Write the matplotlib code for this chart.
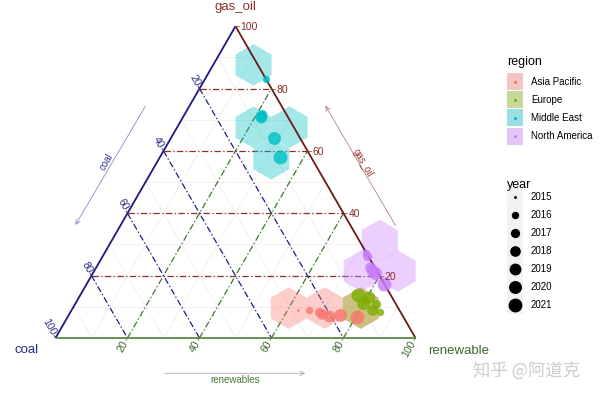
import numpy as np
import matplotlib
matplotlib.use("Agg")
import matplotlib.pyplot as plt
from matplotlib.patches import RegularPolygon, Rectangle, FancyArrowPatch
from matplotlib.transforms import Bbox, TransformedBbox

plt.rcParams["font.family"] = ["Liberation Sans", "DejaVu Sans"]

regions = ["Asia Pacific", "Europe", "Middle East", "North America"]
region_colors = ["#F8766D", "#7CAE00", "#00BFC4", "#C77CFF"]
years = [2015, 2016, 2017, 2018, 2019, 2020, 2021]

# shares in %, one value per year 2015..2021
ap_coal = [28.2, 25.1, 22.7, 22.0, 20.5, 17.3, 13.0]
ap_gas_oil = [9.0, 8.9, 8.2, 7.7, 7.1, 7.3, 6.6]
ap_renewables = [62.8, 66.0, 69.1, 70.3, 72.4, 75.4, 80.4]

eu_coal = [7.4, 5.7, 5.5, 7.7, 6.2, 8.9, 9.0]
eu_gas_oil = [11.6, 8.2, 10.9, 9.0, 13.3, 11.1, 13.8]
eu_renewables = [81.0, 86.1, 83.6, 83.3, 80.5, 80.0, 77.2]

me_coal = [0.6, 0.1, 6.7, 7.3, 7.5, 7.3, 8.6]
me_gas_oil = [82.6, 83.0, 71.9, 71.2, 71.0, 64.0, 58.1]
me_renewables = [16.8, 16.9, 21.4, 21.5, 21.5, 28.7, 33.3]

na_coal = [0.2, 0.1, 0.4, 1.3, 1.3, 0.9, 0.1]
na_gas_oil = [27.4, 27.4, 26.4, 22.8, 21.8, 20.8, 17.2]
na_renewables = [72.4, 72.5, 73.2, 75.9, 76.9, 78.3, 82.7]

# hexagon bins (centres, %), coal = 100 - gas_oil - renewables
hex_region = ["Asia Pacific", "Asia Pacific", "Asia Pacific", "Europe",
              "Middle East", "Middle East", "Middle East", "Middle East",
              "North America", "North America", "North America"]
hex_gas_oil = [9.6, 9.6, 9.6, 9.6, 87.6, 67.6, 67.6, 57.5, 31.3, 21.5, 21.5]
hex_renewables = [60.0, 70.0, 80.0, 80.0, 11.2, 21.2, 31.2, 31.2, 74.4, 74.3, 84.3]

breaks = [20, 40, 60, 80, 100]

data = {
    "Asia Pacific": (ap_coal, ap_gas_oil, ap_renewables),
    "Europe": (eu_coal, eu_gas_oil, eu_renewables),
    "Middle East": (me_coal, me_gas_oil, me_renewables),
    "North America": (na_coal, na_gas_oil, na_renewables),
}

GAS_C = "#8B2E2E"
COAL_C = "#1E1E8C"
REN_C = "#3A7A2A"
SQ = np.sqrt(3) / 2


def tern(coal, gas, ren):
    coal, gas, ren = (np.asarray(v, float) for v in (coal, gas, ren))
    tot = coal + gas + ren
    return (ren + gas / 2) / tot, gas * SQ / tot


def P(px, py):
    # pixel position of the 600x394 canvas -> data units
    return (px - 55.5) / 360, (338 - py) / 360


def year_size(y):
    size = 1 + 5 * np.sqrt((np.asarray(y) - 2015) / 6)
    diam_px = 0.77 * (size * 2.845 + 0.94)
    return (diam_px * 0.72) ** 2


fig = plt.figure(figsize=(6, 3.94), dpi=100)
ax = fig.add_axes([0, 0, 1, 1])
x0, y1 = P(0, 0)
x1, y0 = P(600, 394)
ax.set_xlim(x0, x1)
ax.set_ylim(y0, y1)
ax.set_aspect("equal")
ax.axis("off")

# faint minor grid
for v in range(10, 100, 10):
    for a, b in [((100 - v, v, 0), (0, v, 100 - v)),
                 ((v, 100 - v, 0), (v, 0, 100 - v)),
                 ((100 - v, 0, v), (0, 100 - v, v))]:
        xa, ya = tern(*a)
        xb, yb = tern(*b)
        ax.plot([xa, xb], [ya, yb], color="#ebebeb", lw=0.5, zorder=1)

# major dash-dot grid
dash = (0, (5, 2, 1, 2))
for v in breaks[:-1]:
    xa, ya = tern(100 - v, v, 0)
    xb, yb = tern(0, v, 100 - v)
    ax.plot([xa, xb], [ya, yb], color=GAS_C, lw=0.9, ls=dash, zorder=2)
    xa, ya = tern(v, 100 - v, 0)
    xb, yb = tern(v, 0, 100 - v)
    ax.plot([xa, xb], [ya, yb], color=COAL_C, lw=0.9, ls=dash, zorder=2)
    xa, ya = tern(100 - v, 0, v)
    xb, yb = tern(0, 100 - v, v)
    ax.plot([xa, xb], [ya, yb], color=REN_C, lw=0.9, ls=dash, zorder=2)

# hexagons
col_of = dict(zip(regions, region_colors))
rad = 0.1 / np.sqrt(3)
for reg, g, r in zip(hex_region, hex_gas_oil, hex_renewables):
    hx, hy = tern(100 - g - r, g, r)
    ax.add_patch(RegularPolygon((hx, hy), 6, radius=rad, orientation=0,
                                facecolor=col_of[reg], alpha=0.36,
                                edgecolor="none", zorder=3))

# triangle border
xc, yc = tern(100, 0, 0)
xg, yg = tern(0, 100, 0)
xr, yr = tern(0, 0, 100)
ax.plot([xc, xg], [yc, yg], color="#1A1A80", lw=1.3, zorder=4, solid_capstyle="butt")
ax.plot([xg, xr], [yg, yr], color="#6B1A1A", lw=1.3, zorder=4, solid_capstyle="butt")
ax.plot([xc, xr], [yc, yr], color="#5A8A45", lw=1.3, zorder=4, solid_capstyle="butt")

# points, drawn year by year
for i, yr_ in enumerate(years):
    for reg, c in zip(regions, region_colors):
        coal, gas, ren = data[reg]
        px_, py_ = tern(coal[i], gas[i], ren[i])
        ax.scatter([px_], [py_], s=year_size(yr_), color=c, alpha=0.8,
                   linewidths=0, zorder=5)

# ticks and labels
u = 1 / 360
for b in breaks:
    x, y = tern(0, b, 100 - b)
    ax.plot([x, x + 3 * u], [y, y], color=GAS_C, lw=0.5, zorder=4)
    ax.text(x + 5 * u, y - 1 * u, str(b), color=GAS_C, fontsize=7.5,
            ha="left", va="center", zorder=6)

    x, y = tern(b, 100 - b, 0)
    dx, dy = -0.5, SQ
    ax.plot([x, x + 3 * u * dx], [y, y + 3 * u * dy], color=COAL_C, lw=0.5, zorder=4)
    ax.text(x + 4 * u * dx, y + 4 * u * dy, str(b), color="#2B2B80", fontsize=7.5,
            ha="right", va="center", rotation=-60, rotation_mode="anchor", zorder=6)

    x, y = tern(100 - b, 0, b)
    dx, dy = -0.5, -SQ
    ax.plot([x, x + 3 * u * dx], [y, y + 3 * u * dy], color=REN_C, lw=0.5, zorder=4)
    ax.text(x + 4 * u * dx, y + 4 * u * dy, str(b), color="#3D6B2B", fontsize=7.5,
            ha="right", va="center", rotation=60, rotation_mode="anchor", zorder=6)

# axis titles
ax.text(*P(235, 7), "gas_oil", color=GAS_C, fontsize=9.5, ha="center", va="center")
ax.text(*P(27, 350), "coal", color="#1F2A8A", fontsize=9.5, ha="center", va="center")
rt = ax.text(*P(428, 350.5), "renewables", color="#3D6B2B", fontsize=9.5,
             ha="left", va="center")
rt.set_clip_box(TransformedBbox(Bbox.from_extents(*P(0, 394), *P(489, 0)), ax.transData))
rt.set_clip_on(True)

# direction arrows
for start, end, col in [((146.7, 104), (74, 227.3), "#8A8AC0"),
                        ((397, 228), (324, 103.3), "#B08585"),
                        ((162, 373.3), (308, 373.3), "#A3AAA0")]:
    ax.add_patch(FancyArrowPatch(P(*start), P(*end), arrowstyle="->",
                                 mutation_scale=8, color=col, lw=0.6))
ax.text(*P(106.7, 161.7), "coal", color="#3A3A9A", fontsize=7, rotation=60,
        ha="center", va="center")
ax.text(*P(363, 163), "gas_oil", color="#9A3A3A", fontsize=7, rotation=-60,
        ha="center", va="center")
ax.text(*P(235, 380), "renewables", color="#4A7A3A", fontsize=7,
        ha="center", va="center")

# legend: region
ax.text(*P(507, 61.7), "region", fontsize=9, ha="left", va="center")
for i, (reg, c) in enumerate(zip(regions, region_colors)):
    cy = 81.7 + 18.1 * i
    kx, ky = P(507, cy + 8.5)
    ax.add_patch(Rectangle((kx, ky), 16 * u, 17 * u, facecolor="#F2F2F2",
                           edgecolor="none"))
    ax.add_patch(Rectangle((kx, ky), 16 * u, 17 * u, facecolor=c, alpha=0.36,
                           edgecolor="none"))
    ax.scatter(*P(515, cy), s=5, color=c, linewidths=0)
    ax.text(*P(531, cy), reg, fontsize=7, ha="left", va="center")

# legend: year
ax.text(*P(507, 185), "year", fontsize=9, ha="left", va="center")
bx, by = P(507, 314)
ax.add_patch(Rectangle((bx, by), 16 * u, 126 * u, facecolor="#F2F2F2", edgecolor="none"))
for i, yr_ in enumerate(years):
    cy = 197 + 18 * i
    ax.scatter(*P(515, cy), s=year_size(yr_), color="black", linewidths=0)
    ax.text(*P(531, cy), str(yr_), fontsize=7, ha="left", va="center")

# watermark
ax.text(*P(473, 371), "知乎 @阿道克", fontsize=12.5, color="#CDCDCD", ha="left",
        va="center", family=["Noto Sans CJK SC", "DejaVu Sans"])

fig.savefig("out.png", dpi=100)
